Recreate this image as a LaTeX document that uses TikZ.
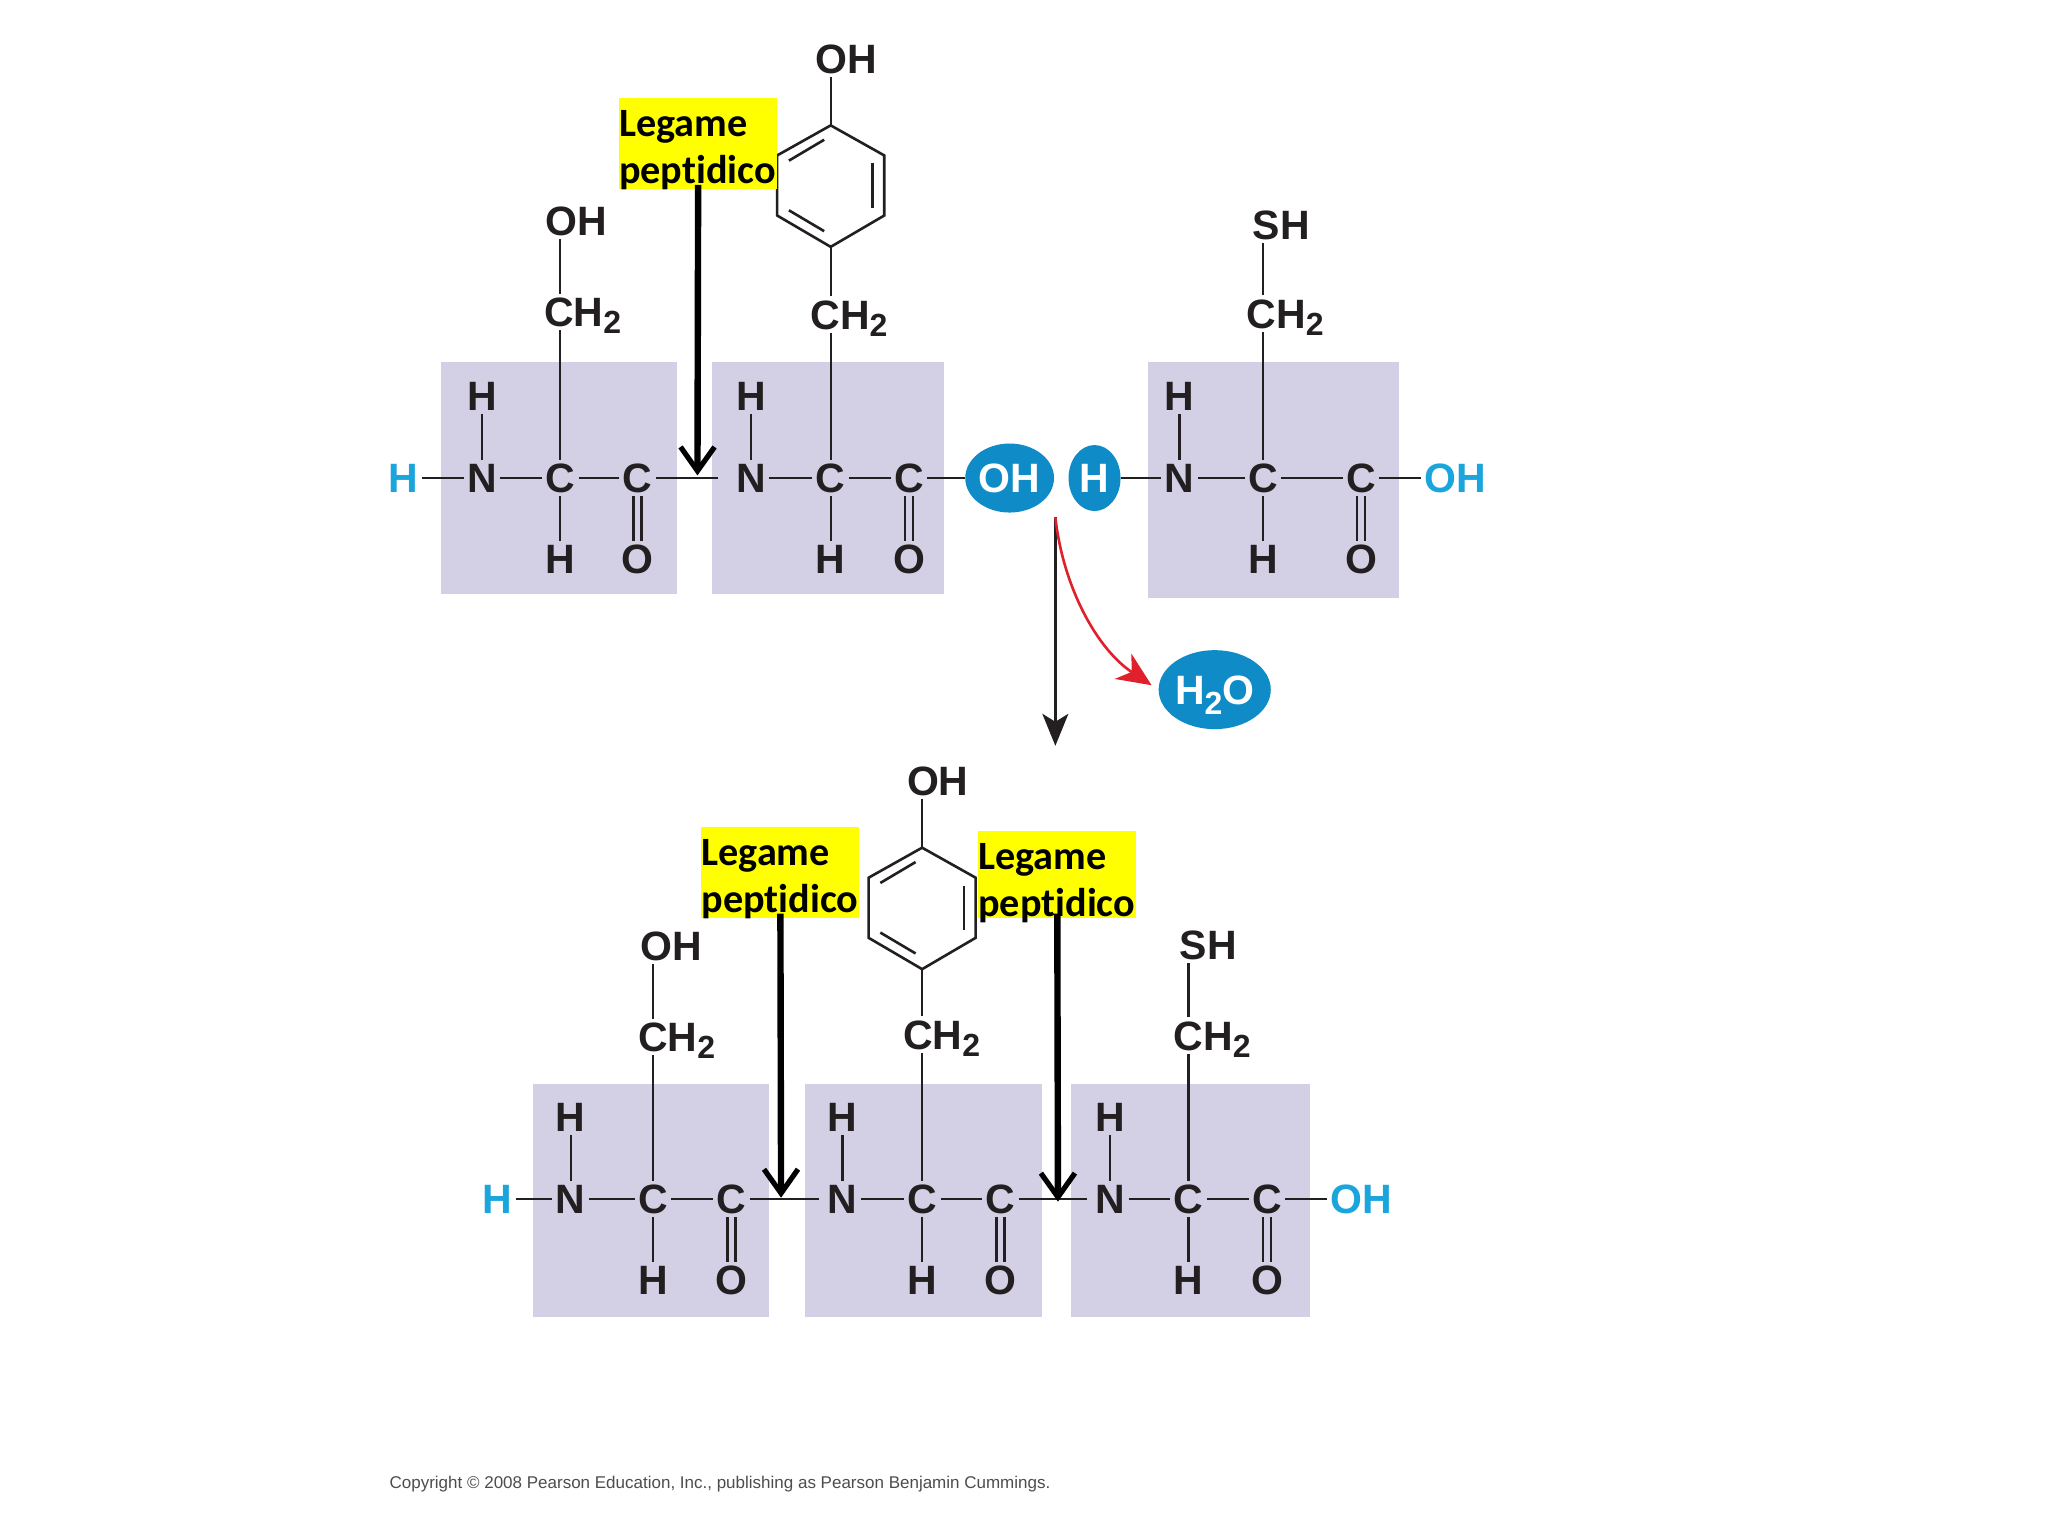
\documentclass[tikz,border=0pt]{standalone}
\usepackage{fontspec}
\setmainfont{Liberation Sans}
\newfontfamily\calibrifont[Ligatures=NoCommon]{Carlito}
\usetikzlibrary{arrows.meta,shapes.geometric}
\definecolor{ink}{HTML}{231F20}
\definecolor{aablue}{HTML}{1AA5DC}
\definecolor{balloon}{HTML}{0F8CC8}
\definecolor{residue}{HTML}{D3D0E6}
\definecolor{waterred}{HTML}{E0202A}
\definecolor{marker}{RGB}{255,255,0}
\tikzset{
  atom/.style={font=\fontsize{20.5}{20.5}\selectfont\bfseries, text=ink, inner sep=1.6pt, text height=14.7pt, text depth=0pt},
  blueatom/.style={atom, text=aablue},
  balloonatom/.style={ellipse, fill=balloon, text=white, font=\fontsize{20.5}{20.5}\selectfont\bfseries, inner sep=0pt},
  resbox/.style={fill=residue, draw=none},
  bond/.style={draw=ink, line width=1.15pt},
  ringline/.style={draw=ink, line width=1.3pt, line join=miter},
  legamebox/.style={fill=marker, inner sep=0pt, minimum width=79pt, minimum height=45.7pt},
  legametext/.style={inner sep=0pt, text width=79pt, align=left, font=\fontsize{20.1}{23.5}\selectfont\calibrifont\bfseries, text=black},
  bigarrow/.style={draw=black, line width=3.2pt, shorten <=-2.5pt, -{Straight Barb[length=12pt,width=17pt,line width=2.6pt]}},
  thinarrow/.style={draw=ink, line width=1.2pt, -{Stealth[length=16pt,width=13pt,inset=4pt]}},
  redarrow/.style={draw=waterred, line width=1.3pt, -{Stealth[length=17pt,width=15pt,inset=5pt]}},
  copyrightnote/.style={font=\fontsize{8.5}{10}\selectfont, text=ink!80, inner sep=0pt, anchor=west}
}
\newcommand{\residuegroup}[5]{%
  \node[atom] (#1N) at (#2,#5) {N};
  \node[atom] (#1C) at (#3,#5) {C};
  \node[atom] (#1K) at (#4,#5) {C};
  \node[atom] (#1HN) at (#2,#5-63) {H};
  \node[atom] (#1HC) at (#3,#5+62) {H};
  \node[atom] (#1O) at (#4,#5+62) {O};
  \draw[bond] (#1N) -- (#1C);
  \draw[bond] (#1C) -- (#1K);
  \draw[bond] (#1N) -- (#1HN);
  \draw[bond] (#1C) -- (#1HC);
  \draw[bond] ([xshift=-2pt]#1K.south) -- ([xshift=-2pt]#1O.north);
  \draw[bond] ([xshift=2pt]#1K.south) -- ([xshift=2pt]#1O.north);
}
\newcommand{\methylene}[3]{%
  \node[atom] (#1CH) at (#2,#3) {CH\raisebox{-3.5pt}{\fontsize{16}{16}\selectfont 2}};
  \draw[bond] (#1C) -- (#1C |- #1CH.south);
}
\newcommand{\benzene}[3]{%
  \begin{scope}[shift={(#2,#3)}]
    \coordinate (#1a) at (0,-46);
    \coordinate (#1b) at (41,-23);
    \coordinate (#1c) at (41,23);
    \coordinate (#1d) at (0,47);
    \coordinate (#1e) at (-41,23);
    \coordinate (#1f) at (-41,-23);
    \draw[ringline] (#1a) -- (#1b) -- (#1c) -- (#1d) -- (#1e) -- (#1f) -- cycle;
    \draw[ringline] (-32,-19) -- (-5,-35);
    \draw[ringline] (32,-17) -- (32,17);
    \draw[ringline] (-32,19) -- (-5,35);
  \end{scope}
}
\begin{document}
\begin{tikzpicture}[x=0.653061pt,y=-0.653061pt]
\useasboundingbox[fill=white] (0,0) rectangle (1568,1176);
% shaded residue boxes
\fill[resbox] (338,277) rectangle (518,455);
\fill[resbox] (545,277) rectangle (723,455);
\fill[resbox] (879,277) rectangle (1071,458);
\fill[resbox] (408,830) rectangle (589,1008);
\fill[resbox] (616,830) rectangle (798,1008);
\fill[resbox] (820,830) rectangle (1003,1008);

% --- upper row ---
\node[blueatom] (aH) at (309,366) {H};
\residuegroup{a}{369}{429}{488}{366}
\draw[bond] (aH) -- (aN);
\methylene{a}{446}{239}
\node[atom] (aOH) at (441,169) {OH};
\draw[bond] (aC |- aCH.north) -- (aC |- aOH.south);
\coordinate (abgap) at (550,366);
\draw[bond] (aK) -- (abgap);

\residuegroup{b}{575}{636}{696}{366}
\methylene{b}{650}{241}
\benzene{bR}{636}{142}
\draw[bond] (bC |- bCH.north) -- (bRd);
\node[atom] (bOH) at (648,45) {OH};
\draw[bond] (bRa) -- (bRa |- bOH.south);
\node[balloonatom, minimum width=44.4pt, minimum height=34.5pt] (bOHb) at (773,366) {OH};
\draw[bond] (bK) -- (bOHb);

\node[balloonatom, minimum width=26pt, minimum height=33pt] (cHb) at (838,366) {H};
\residuegroup{c}{903}{967}{1042}{366}
\draw[bond] (cHb) -- (cN);
\methylene{c}{984}{240}
\node[atom] (cSH) at (981,172) {SH};
\draw[bond] (cC |- cCH.north) -- (cC |- cSH.south);
\node[blueatom] (cOH) at (1114,366) {OH};
\draw[bond] (cK) -- (cOH);

\node[legamebox] (leg1) at (534.5,110) {};
\node[legametext] (leg1t) at (534.5,115) {Legame\\peptidico};
\coordinate (leg1end) at (534,364);
\draw[bigarrow] (leg1.south) -- (leg1end);

% --- reaction ---
\coordinate (reactstart) at (808,396);
\coordinate (reactend) at (808,571);
\draw[thinarrow] (reactstart) -- (reactend);
\node[balloonatom, minimum width=56pt, minimum height=39.5pt, text depth=0pt, text height=14.7pt] (water) at (930,528) {H\raisebox{-5pt}{\fontsize{16}{16}\selectfont 2}O};
\draw[redarrow, shorten >=4pt] (reactstart) .. controls (814,450) and (840,497) .. (water.west);

% --- lower row ---
\node[blueatom] (dH) at (381,918) {H};
\residuegroup{d}{437}{500}{560}{918}
\draw[bond] (dH) -- (dN);
\methylene{d}{518}{794}
\node[atom] (dOH) at (514,724) {OH};
\draw[bond] (dC |- dCH.north) -- (dC |- dOH.south);
\coordinate (degap) at (627,918);
\draw[bond] (dK) -- (degap);

\residuegroup{e}{645}{706}{766}{918}
\methylene{e}{721}{792}
\benzene{eR}{706}{695}
\draw[bond] (eC |- eCH.north) -- (eRd);
\node[atom] (eOH) at (718,598) {OH};
\draw[bond] (eRa) -- (eRa |- eOH.south);
\coordinate (efgap) at (832,918);
\draw[bond] (eK) -- (efgap);

\residuegroup{f}{850}{910}{970}{918}
\methylene{f}{928}{793}
\node[atom] (fSH) at (925,723) {SH};
\draw[bond] (fC |- fCH.north) -- (fC |- fSH.south);
\node[blueatom] (fOH) at (1042,918) {OH};
\draw[bond] (fK) -- (fOH);

\node[legamebox] (leg2) at (597.5,668) {};
\node[legametext] (leg2t) at (597.5,673) {Legame\\peptidico};
\coordinate (leg2end) at (598,917);
\draw[bigarrow] (leg2.south) -- (leg2end);
\node[legamebox, minimum height=43.7pt] (leg3) at (809.5,669.5) {};
\node[legametext] (leg3t) at (809.5,676) {Legame\\peptidico};
\coordinate (leg3end) at (810,920);
\draw[bigarrow] (leg3.south) -- (leg3end);

\node[copyrightnote] (copy) at (298,1136) {Copyright © 2008 Pearson Education, Inc., publishing as Pearson Benjamin Cummings.};
\end{tikzpicture}
\end{document}
